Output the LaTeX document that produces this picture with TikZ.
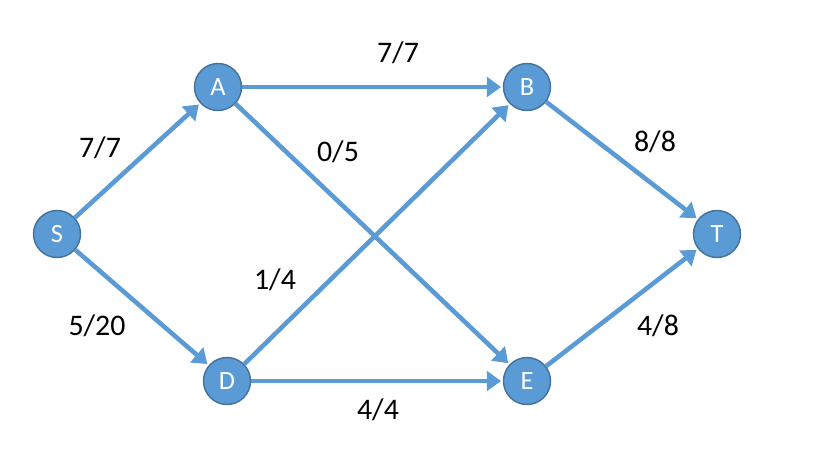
\documentclass[tikz,border=0pt]{standalone}
\usepackage{fontspec}
\setmainfont{Carlito}
\usetikzlibrary{arrows.meta}
\begin{document}
\begin{tikzpicture}[x=0.02cm,y=-0.02cm,
  v/.style={circle,fill={rgb,255:red,91;green,155;blue,213},draw={rgb,255:red,65;green,113;blue,156},line width=0.8pt,minimum size=0.94cm,inner sep=0pt,text=white,font=\fontsize{15}{17}\selectfont},
  e/.style={draw={rgb,255:red,91;green,155;blue,213},line width=2.6pt,-{Triangle[length=8pt,width=11pt]},shorten >=1pt},
  l/.style={font=\fontsize{17}{19}\selectfont}]
\useasboundingbox (0,0) rectangle (835,457);
\node[v] (S) at (57,234) {S};
\node[v] (A) at (218,87) {A};
\node[v] (B) at (527,87) {B};
\node[v] (T) at (717,234) {T};
\node[v] (D) at (227,381) {D};
\node[v] (E) at (527,381) {E};
\draw[e] (S) -- (A);
\draw[e] (S) -- (D);
\draw[e] (A) -- (B);
\draw[e] (A) -- (E);
\draw[e] (D) -- (B);
\draw[e] (D) -- (E);
\draw[e] (B) -- (T);
\draw[e] (E) -- (T);
\node[l] (l1) at (398,53) {7/7};
\node[l] (l2) at (100,148) {7/7};
\node[l] (l3) at (338,152) {0/5};
\node[l] (l4) at (655,142) {8/8};
\node[l] (l5) at (275,280) {1/4};
\node[l] (l6) at (97,326) {5/20};
\node[l] (l7) at (658,326) {4/8};
\node[l] (l8) at (378,410) {4/4};
\end{tikzpicture}
\end{document}
